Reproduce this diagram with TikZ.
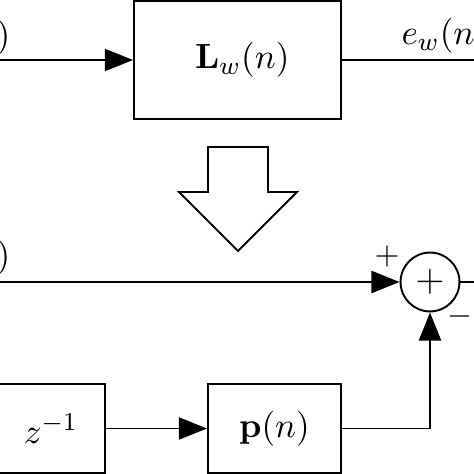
\documentclass[tikz,border=0pt]{standalone}
\usepackage{amsmath}
\usepackage{amssymb}
\usetikzlibrary{arrows.meta}
\usetikzlibrary{positioning}
\tikzset{block/.style = {draw, line width = 0.6pt, inner sep = 0, font = \fontsize{11.4}{14}\selectfont}}
\tikzset{sumnode/.style = {draw, circle, line width = 0.6pt, inner sep = 0, minimum size = 18.4pt}}
\tikzset{wire/.style = {line width = 0.6pt}}
\tikzset{sig/.style = {wire, -{Triangle[length = 8.8pt, width = 6.9pt]}}}
\tikzset{lbl/.style = {inner sep = 0, font = \fontsize{11.4}{14}\selectfont}}

\begin{document}
\begin{tikzpicture}[x = 0.3125pt, y = -0.3125pt]
      \useasboundingbox (0, 0) rectangle (474, 474);

      \node [block, minimum width = 64.7pt, minimum height = 36.6pt] (Lw) at (237.5, 60) {\hspace{3pt}$\mathbf{L}_w(n)$};
      \coordinate (intop) at (0, 60);
      \coordinate (outtop) at (474, 60);
      \draw [sig] (intop) -- (Lw.west);
      \draw [wire] (Lw.east) -- (outtop);
      \node [lbl, anchor = base east] (xtop) at (11, 47) {$)$};
      \node [lbl, anchor = base west] (ew) at (401, 45) {$e_w(n$};

      % hollow arrow
      \draw [wire] (208, 147) -- (268, 147) -- (268, 192) -- (297, 192) -- (238, 251) -- (179, 192) -- (208, 192) -- cycle;

      \node [sumnode] (sum) at (430, 282) {\large $+$};
      \coordinate (inmid) at (0, 282);
      \coordinate (outmid) at (474, 282);
      \draw [sig] (inmid) -- (sum.west);
      \draw [wire] (sum.east) -- (outmid);
      \node [lbl, anchor = base east] (xmid) at (11, 266) {$)$};
      \node (plus) at (387, 257) {$+$};
      \node (minus) at (460, 316) {$-$};

      \node [block, minimum width = 33.75pt, minimum height = 27.8pt] (delay) at (51, 428.5) {$z^{-1}$};
      \node [block, minimum width = 41.6pt, minimum height = 27.8pt] (pn) at (274.5, 428.5) {$\mathbf{p}(n)$};
      \draw [sig] (delay.east) -- (pn.west);
      \draw [sig] (pn.east) -| (sum.south);
\end{tikzpicture}
\end{document}
